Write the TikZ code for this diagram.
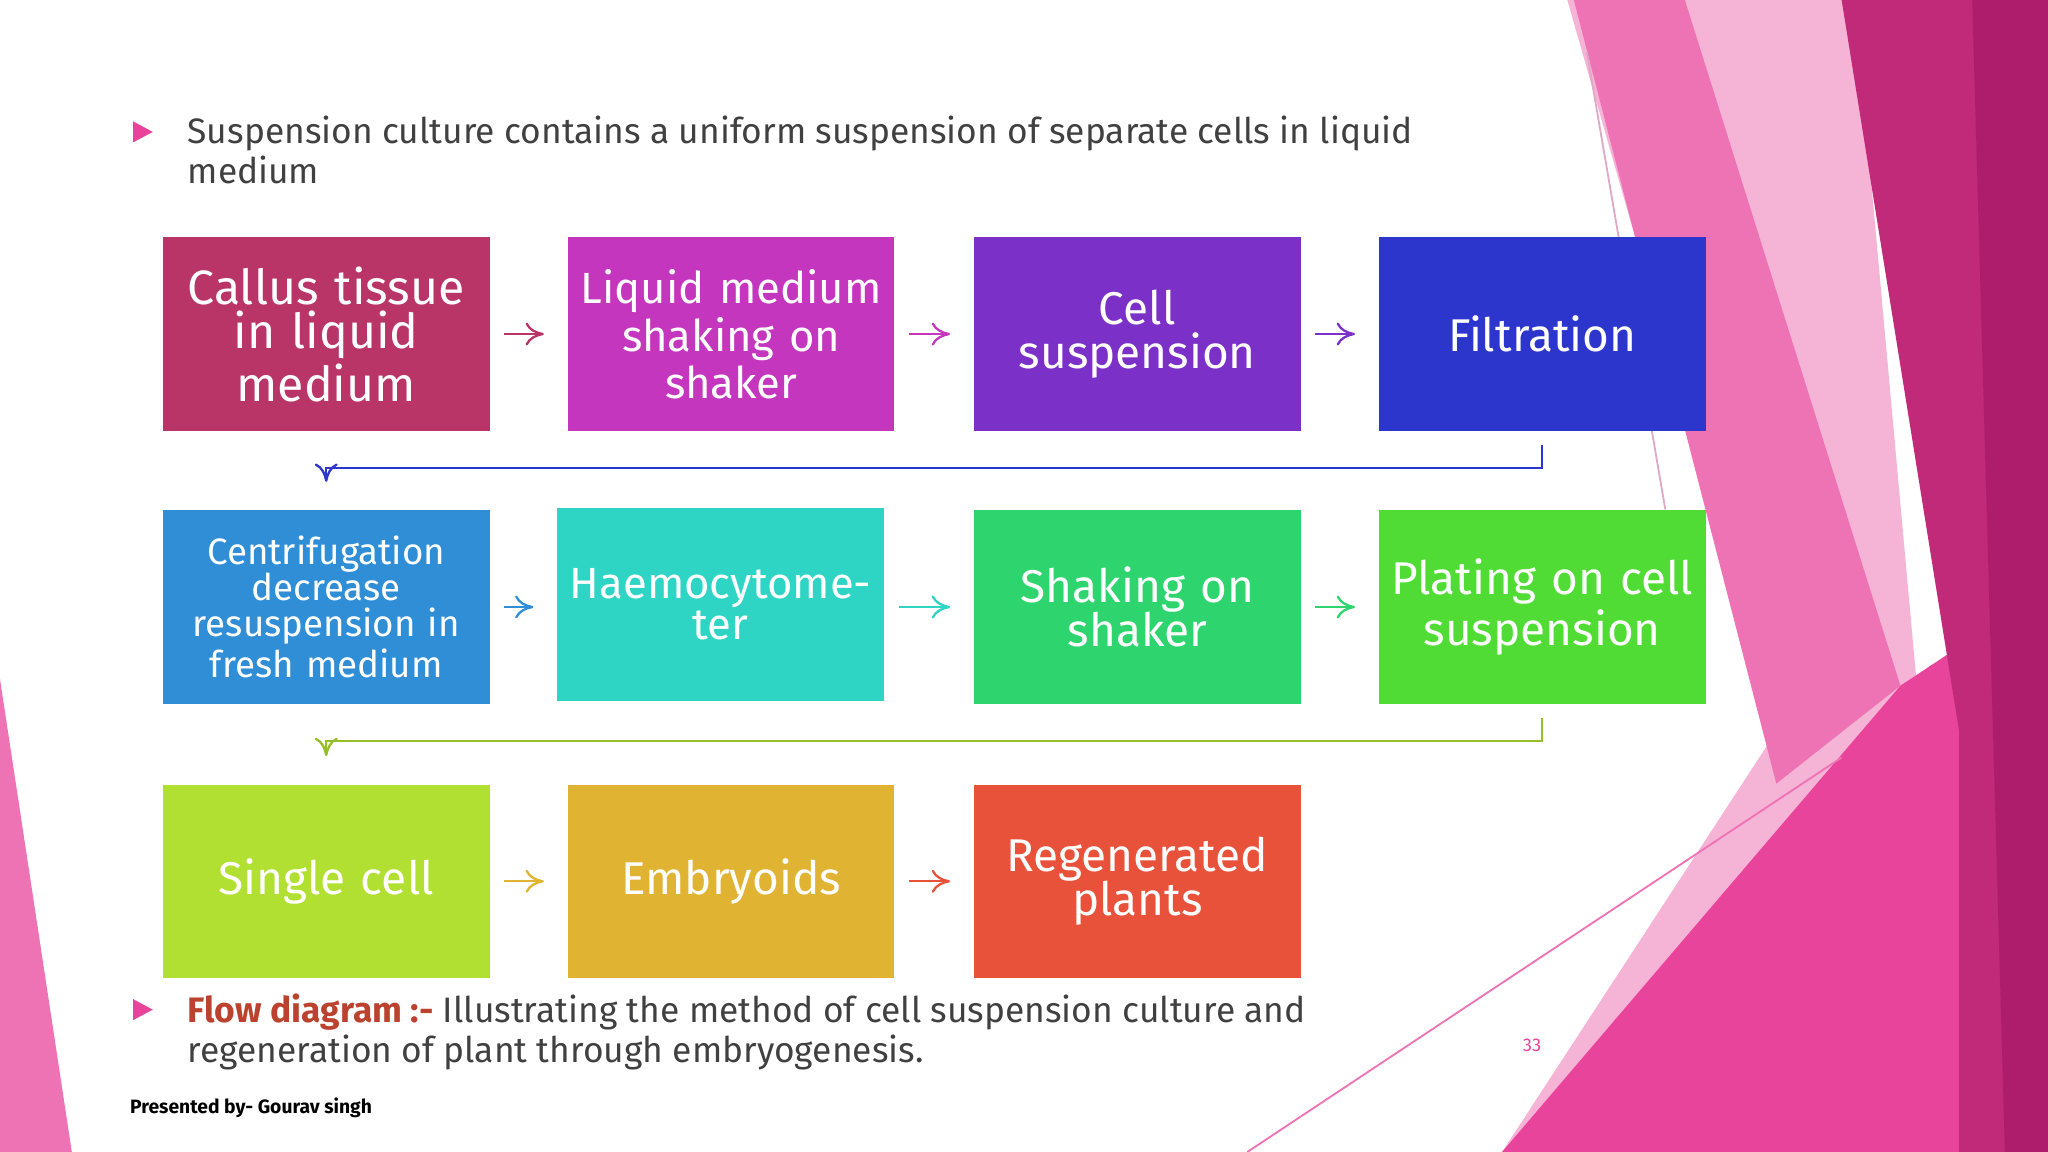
\documentclass[tikz,border=0pt]{standalone}
\usepackage{fontspec}
\setmainfont{Fira Sans}
\usetikzlibrary{arrows.meta}
\definecolor{c1}{HTML}{B93467}\definecolor{c2}{HTML}{C536BE}\definecolor{c3}{HTML}{7B30C8}\definecolor{c4}{HTML}{2C35CC}
\definecolor{c5}{HTML}{2F8ED6}\definecolor{c6}{HTML}{2ED5C4}\definecolor{c7}{HTML}{2ED56F}\definecolor{c8}{HTML}{50DC35}
\definecolor{c9}{HTML}{B1E032}\definecolor{c10}{HTML}{E1B332}\definecolor{c11}{HTML}{E8523A}
\definecolor{lpink}{HTML}{F5B3D5}\definecolor{mpink}{HTML}{EE73B4}\definecolor{hpink}{HTML}{E8449B}
\definecolor{dmag}{HTML}{C02A78}\definecolor{ddmag}{HTML}{AE1D6C}\definecolor{txt}{HTML}{404040}
\begin{document}
\begin{tikzpicture}[x=0.01cm,y=-0.01cm,
 box/.style={minimum width=2.5cm, minimum height=1.48cm, inner sep=0pt, anchor=north west, text=white, align=center,
   font=\fontsize{10}{9.7}\selectfont, text width=2.35cm},
 arr/.style={-{To[length=4pt,width=5pt]}, line width=0.5pt, shorten <=3pt, shorten >=5pt}]
\useasboundingbox (0,0) rectangle (1568,882);
% background shapes
\fill[lpink] (1200,0) -- (1420,0) -- (1500,882) -- (1150,882) -- (1360,560) -- cycle;
\fill[mpink] (1205,0) -- (1290,0) -- (1455,525) -- (1360,600) -- cycle;
\fill[hpink] (1150,882) -- (1455,525) -- (1568,450) -- (1568,882) -- cycle;
\fill[dmag] (1410,0) -- (1568,0) -- (1568,882) -- (1500,882) -- (1500,560) -- cycle;
\fill[ddmag] (1510,0) -- (1568,0) -- (1568,882) -- (1535,882) -- cycle;
\fill[mpink] (0,520) -- (0,882) -- (55,882) -- cycle;
\draw[mpink, line width=0.4pt] (955,882) -- (1410,580);
\draw[lpink!80!gray, line width=0.4pt] (1215,40) -- (1275,390);
% title
\fill[hpink] (102,93) -- (117,101) -- (102,109) -- cycle;
\node[anchor=north west, inner sep=0pt, text=txt, align=left, font=\fontsize{7.7}{7.4}\selectfont] (title) at (143,88)
 {Suspension culture contains a uniform suspension of separate cells in liquid\\medium};
% boxes
\node[box, fill=c1, font=\fontsize{10.5}{9.7}\selectfont] (b1) at (124,181) {Callus tissue\\in liquid\\medium};
\node[box, fill=c2, font=\fontsize{9.5}{8.8}\selectfont] (b2) at (434,181) {Liquid medium\\shaking on\\shaker};
\node[box, fill=c3] (b3) at (745,181) {Cell\\suspension};
\node[box, fill=c4] (b4) at (1055,181) {Filtration};
\node[box, fill=c5, font=\fontsize{8}{7.8}\selectfont] (b5) at (124,390) {Centrifugation\\decrease\\resuspension in\\fresh medium};
\node[box, fill=c6, font=\fontsize{9.5}{8.8}\selectfont] (b6) at (426,388) {Haemocytome-\\ter};
\node[box, fill=c7] (b7) at (745,390) {Shaking on\\shaker};
\node[box, fill=c8] (b8) at (1055,390) {Plating on cell\\suspension};
\node[box, fill=c9] (b9) at (124,600) {Single cell};
\node[box, fill=c10] (b10) at (434,600) {Embryoids};
\node[box, fill=c11] (b11) at (745,600) {Regenerated\\plants};
% connectors
\draw[arr, c1] (b1) -- (b2);
\draw[arr, c2] (b2) -- (b3);
\draw[arr, c3] (b3) -- (b4);
\draw[-{To[length=4pt,width=5pt]}, line width=0.5pt, c4, shorten <=3pt, shorten >=6pt] (b4.south) -- ++(0,28) -| (b5.north);
\draw[arr, c5] (b5) -- (b6.west |- b5.east);
\draw[arr, c6] (b6.east |- b7.east) -- (b7);
\draw[arr, c7] (b7) -- (b8);
\draw[-{To[length=4pt,width=5pt]}, line width=0.5pt, c9!85!black, shorten <=3pt, shorten >=6pt] (b8.south) -- ++(0,28) -| (b9.north);
\draw[arr, c10] (b9) -- (b10);
\draw[arr, c11] (b10) -- (b11);
% caption
\fill[hpink] (102,765) -- (117,773) -- (102,781) -- cycle;
\node[anchor=north west, inner sep=0pt, text=txt, align=left, font=\fontsize{7.7}{7.4}\selectfont] (cap) at (143,760)
 {\textcolor{c11!80!black}{\textbf{Flow diagram :-}} Illustrating the method of cell suspension culture and\\regeneration of plant through embryogenesis.};
\node[text=hpink, font=\fontsize{4}{4}\selectfont, inner sep=0pt] (pg) at (1173,800) {33};
\node[anchor=west, inner sep=0pt, font=\bfseries\fontsize{4.2}{4.2}\selectfont] (foot) at (99,848) {Presented by- Gourav singh};
\end{tikzpicture}
\end{document}
